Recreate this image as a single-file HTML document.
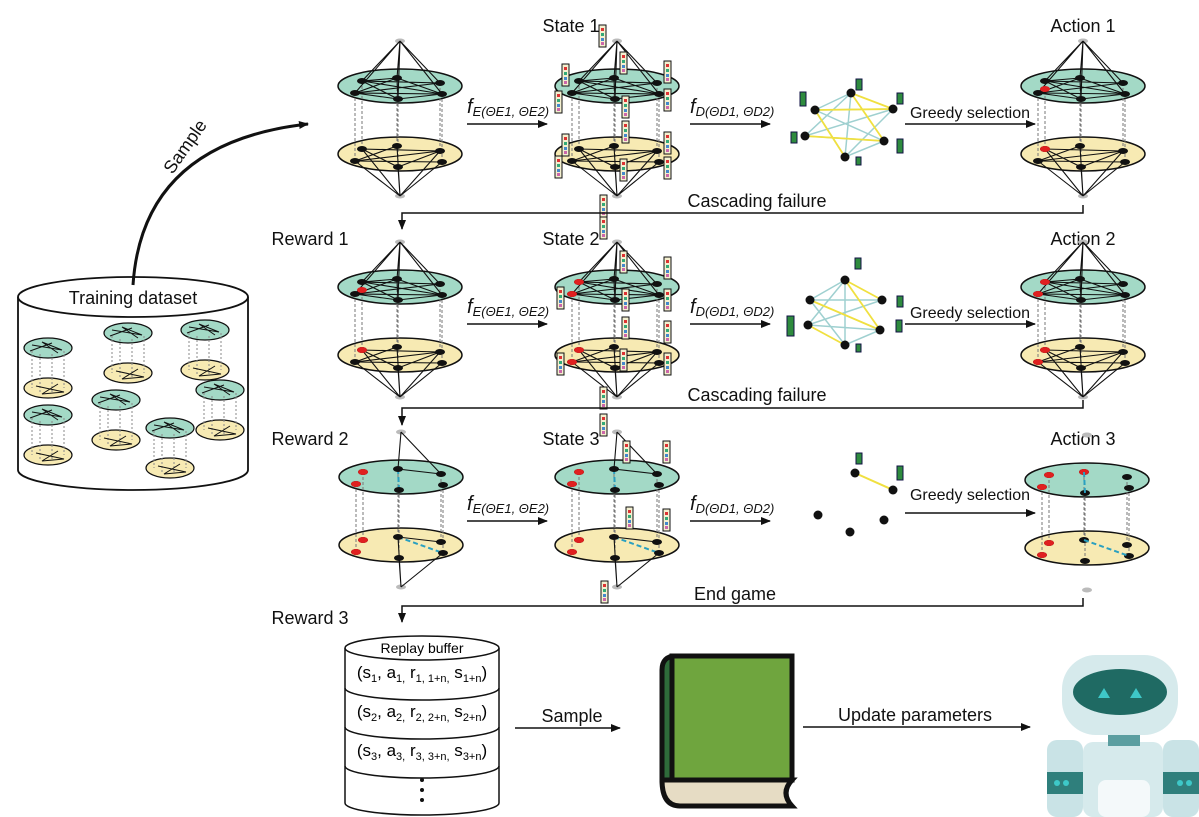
<!DOCTYPE html>
<html><head><meta charset="utf-8"><style>
html,body{margin:0;padding:0;background:#fff;}
svg{display:block;font-family:"Liberation Sans",sans-serif;}
.t{font-size:18px;fill:#111;}
.s{font-size:15px;fill:#111;}
</style></head><body>
<svg width="1199" height="817" viewBox="0 0 1199 817" xmlns="http://www.w3.org/2000/svg">
<defs>
<marker id="ah" markerWidth="10" markerHeight="8" refX="9" refY="4" orient="auto" markerUnits="userSpaceOnUse"><path d="M0,0 L10,4 L0,8 Z" fill="#111"/></marker>
<g id="ell">
  <ellipse cx="0" cy="-33" rx="62" ry="17" fill="#a3d9c6" stroke="#111" stroke-width="1.5"/>
  <ellipse cx="0" cy="35" rx="62" ry="17" fill="#f7eab3" stroke="#111" stroke-width="1.5"/>
  <g stroke="#777" stroke-width="1" stroke-dasharray="3,2">
    <line x1="-45" y1="-26" x2="-45" y2="42"/><line x1="-38" y1="-38" x2="-38" y2="30"/>
    <line x1="-3" y1="-41" x2="-3" y2="27"/><line x1="-2" y1="-20" x2="-2" y2="48"/>
    <line x1="40" y1="-36" x2="40" y2="32"/><line x1="42" y1="-25" x2="42" y2="43"/>
  </g>
  <ellipse cx="0" cy="-78" rx="5" ry="2.5" fill="#bbb"/>
  <ellipse cx="0" cy="77" rx="5" ry="2.5" fill="#bbb"/>
</g>
<g id="full">
  <g stroke="#111" stroke-width="1.1" fill="none">
    <path d="M0,-78 L-38,-38 M0,-78 L-3,-41 M0,-78 L40,-36 M0,-78 L-45,-26 M0,-78 L-2,-20 M0,-78 L42,-25"/>
    <path d="M-38,-38 L40,-36 L-45,-26 L42,-25 L-38,-38 L-2,-20 L-3,-41 L-45,-26 M-3,-41 L42,-25 M-38,-38 L-3,-41 M-45,-26 L-2,-20 L42,-25"/>
    <path d="M-38,30 L40,32 L-45,42 L42,43 M-3,27 L-45,42 M-2,48 L40,32 M-38,30 L-2,48"/>
    <path d="M0,77 L-38,30 M0,77 L-3,27 M0,77 L40,32 M0,77 L-45,42 M0,77 L-2,48 M0,77 L42,43"/>
  </g>
</g>
<g id="nodes">
  <g fill="#111"><ellipse cx="-38" cy="-38" rx="5" ry="3"/><ellipse cx="-3" cy="-41" rx="5" ry="3"/><ellipse cx="40" cy="-36" rx="5" ry="3"/><ellipse cx="-45" cy="-26" rx="5" ry="3"/><ellipse cx="-2" cy="-20" rx="5" ry="3"/><ellipse cx="42" cy="-25" rx="5" ry="3"/>
  <ellipse cx="-38" cy="30" rx="5" ry="3"/><ellipse cx="-3" cy="27" rx="5" ry="3"/><ellipse cx="40" cy="32" rx="5" ry="3"/><ellipse cx="-45" cy="42" rx="5" ry="3"/><ellipse cx="-2" cy="48" rx="5" ry="3"/><ellipse cx="42" cy="43" rx="5" ry="3"/></g>
</g>
<g id="red2">
  <ellipse cx="-38" cy="-38" rx="5" ry="3" fill="#e02020"/><ellipse cx="-45" cy="-26" rx="5" ry="3" fill="#e02020"/>
  <ellipse cx="-38" cy="30" rx="5" ry="3" fill="#e02020"/><ellipse cx="-45" cy="42" rx="5" ry="3" fill="#e02020"/>
</g>
<g id="sparse">
  <g stroke="#111" stroke-width="1.1" fill="none"><path d="M0,-78 L40,-36 M0,-78 L-3,-41 L40,-36 M-3,27 L40,32 M0,77 L-2,48 M0,77 L42,43 M0,77 L-3,27"/></g>
  <path d="M-3,-41 L-2,-20 M-3,27 L42,43" stroke="#2aa0c0" stroke-width="2" stroke-dasharray="5,3"/>
</g>
<g id="bar"><rect x="-3" y="-11" width="7" height="22" fill="#f4f0d0" stroke="#111" stroke-width="1"/><rect x="-1" y="-8" width="3" height="3" fill="#d33"/><rect x="-1" y="-3" width="3" height="3" fill="#3a7"/><rect x="-1" y="2" width="3" height="3" fill="#48c"/><rect x="-1" y="6" width="3" height="3" fill="#c6a"/></g>
<g id="mini">
  <ellipse cx="0" cy="0" rx="24" ry="10" fill="#a3d9c6" stroke="#111" stroke-width="1.2"/>
  <ellipse cx="0" cy="40" rx="24" ry="10" fill="#f7eab3" stroke="#111" stroke-width="1.2"/>
  <g stroke="#888" stroke-dasharray="2,2"><line x1="-16" y1="3" x2="-16" y2="40"/><line x1="-8" y1="6" x2="-8" y2="44"/><line x1="4" y1="6" x2="4" y2="44"/><line x1="16" y1="3" x2="16" y2="40"/></g>
  <path d="M-16,-3 L14,2 L-6,-6 L10,5 M-18,3 L4,-5 M-12,38 L16,44 L-6,46 L10,36" stroke="#111" fill="none"/>
</g>
</defs>

<!-- Training dataset cylinder -->
<path d="M18,297 L18,470 A115,20 0 0 0 248,470 L248,297" fill="#fff" stroke="#111" stroke-width="1.8"/>
<ellipse cx="133" cy="297" rx="115" ry="20" fill="#fff" stroke="#111" stroke-width="1.8"/>
<text x="133" y="304" class="t" text-anchor="middle">Training dataset</text>
<use href="#mini" x="48" y="348"/><use href="#mini" x="128" y="333"/><use href="#mini" x="205" y="330"/>
<use href="#mini" x="48" y="415"/><use href="#mini" x="116" y="400"/><use href="#mini" x="170" y="428"/><use href="#mini" x="220" y="390"/>

<!-- Sample arc -->
<path d="M133,285 C140,180 210,135 308,124" fill="none" stroke="#111" stroke-width="3" marker-end="url(#ah)"/>
<text x="0" y="0" class="t" transform="translate(190,150) rotate(-55)" text-anchor="middle">Sample</text>

<!-- Labels -->
<text x="571" y="32" class="t" text-anchor="middle">State 1</text>
<text x="1083" y="32" class="t" text-anchor="middle">Action 1</text>
<text x="310" y="245" class="t" text-anchor="middle">Reward 1</text>
<text x="571" y="245" class="t" text-anchor="middle">State 2</text>
<text x="1083" y="245" class="t" text-anchor="middle">Action 2</text>
<text x="310" y="445" class="t" text-anchor="middle">Reward 2</text>
<text x="571" y="445" class="t" text-anchor="middle">State 3</text>
<text x="1083" y="445" class="t" text-anchor="middle">Action 3</text>
<text x="310" y="624" class="t" text-anchor="middle">Reward 3</text>

<!-- Row 1 -->
<g transform="translate(400,119)"><use href="#ell"/><use href="#full"/><use href="#nodes"/></g>
<g transform="translate(617,119)"><use href="#ell"/><use href="#full"/><use href="#nodes"/></g>
<g transform="translate(1083,119)"><use href="#ell"/><use href="#full"/><use href="#nodes"/><ellipse cx="-38" cy="-30" rx="5" ry="3" fill="#e02020"/><ellipse cx="-38" cy="30" rx="5" ry="3" fill="#e02020"/></g>
<!-- Row 2 -->
<g transform="translate(400,320)"><use href="#ell"/><use href="#full"/><use href="#nodes"/><ellipse cx="-38" cy="-30" rx="5" ry="3" fill="#e02020"/><ellipse cx="-38" cy="30" rx="5" ry="3" fill="#e02020"/></g>
<g transform="translate(617,320)"><use href="#ell"/><use href="#full"/><use href="#nodes"/><use href="#red2"/></g>
<g transform="translate(1083,320)"><use href="#ell"/><use href="#full"/><use href="#nodes"/><use href="#red2"/></g>
<!-- Row 3 -->
<g transform="translate(401,510)"><use href="#ell"/><use href="#sparse"/><use href="#nodes"/><use href="#red2"/></g>
<g transform="translate(617,510)"><use href="#ell"/><use href="#sparse"/><use href="#nodes"/><use href="#red2"/></g>
<g transform="translate(1087,513)"><use href="#ell"/><use href="#nodes"/><use href="#red2"/><ellipse cx="-3" cy="-41" rx="5" ry="3" fill="#e02020"/><path d="M-3,-41 L-2,-20 M-3,27 L42,43" stroke="#2aa0c0" stroke-width="2" stroke-dasharray="5,3"/></g>

<!-- feature bars -->
<g>
<use href="#bar" x="602" y="36"/><use href="#bar" x="623" y="63"/><use href="#bar" x="565" y="75"/><use href="#bar" x="667" y="72"/><use href="#bar" x="558" y="102"/><use href="#bar" x="625" y="107"/><use href="#bar" x="667" y="100"/>
<use href="#bar" x="565" y="145"/><use href="#bar" x="625" y="132"/><use href="#bar" x="667" y="143"/><use href="#bar" x="558" y="167"/><use href="#bar" x="623" y="170"/><use href="#bar" x="667" y="168"/><use href="#bar" x="603" y="206"/>
<use href="#bar" x="603" y="228"/><use href="#bar" x="623" y="262"/><use href="#bar" x="667" y="268"/><use href="#bar" x="560" y="298"/><use href="#bar" x="625" y="300"/><use href="#bar" x="667" y="300"/>
<use href="#bar" x="625" y="328"/><use href="#bar" x="667" y="332"/><use href="#bar" x="560" y="364"/><use href="#bar" x="623" y="360"/><use href="#bar" x="667" y="364"/><use href="#bar" x="603" y="398"/>
<use href="#bar" x="603" y="425"/><use href="#bar" x="626" y="452"/><use href="#bar" x="666" y="452"/><use href="#bar" x="629" y="518"/><use href="#bar" x="666" y="520"/><use href="#bar" x="604" y="592"/>
</g>

<!-- f arrows -->
<g stroke="#111" stroke-width="1.5" marker-end="url(#ah)">
<line x1="467" y1="124" x2="547" y2="124"/><line x1="690" y1="124" x2="770" y2="124"/><line x1="905" y1="124" x2="1035" y2="124"/>
<line x1="467" y1="324" x2="547" y2="324"/><line x1="690" y1="324" x2="770" y2="324"/><line x1="905" y1="324" x2="1035" y2="324"/>
<line x1="467" y1="521" x2="547" y2="521"/><line x1="690" y1="521" x2="770" y2="521"/><line x1="905" y1="513" x2="1035" y2="513"/>
</g>
<g class="s">
<text x="467" y="113" font-size="20" font-style="italic">f<tspan font-size="13" dy="3">E(ΘE1, ΘE2)</tspan></text>
<text x="690" y="113" font-size="20" font-style="italic">f<tspan font-size="13" dy="3">D(ΘD1, ΘD2)</tspan></text>
<text x="467" y="313" font-size="20" font-style="italic">f<tspan font-size="13" dy="3">E(ΘE1, ΘE2)</tspan></text>
<text x="690" y="313" font-size="20" font-style="italic">f<tspan font-size="13" dy="3">D(ΘD1, ΘD2)</tspan></text>
<text x="467" y="510" font-size="20" font-style="italic">f<tspan font-size="13" dy="3">E(ΘE1, ΘE2)</tspan></text>
<text x="690" y="510" font-size="20" font-style="italic">f<tspan font-size="13" dy="3">D(ΘD1, ΘD2)</tspan></text>
<text x="970" y="118" text-anchor="middle" font-size="16">Greedy selection</text>
<text x="970" y="318" text-anchor="middle" font-size="16">Greedy selection</text>
<text x="970" y="500" text-anchor="middle" font-size="16">Greedy selection</text>
</g>

<!-- decoder graphs -->
<g>
<g stroke="#9fd0d0" stroke-width="1.5" fill="none"><path d="M851,93 L815,110 L893,109 L805,136 L884,141 L845,157 L815,110 M851,93 L805,136 M851,93 L845,157 M815,110 L884,141 M893,109 L845,157"/></g>
<g stroke="#f0e040" stroke-width="1.8" fill="none"><path d="M851,93 L893,109 M851,93 L884,141 M815,110 L845,157 M805,136 L884,141 M815,110 L893,109"/></g>
<g fill="#111"><circle cx="851" cy="93" r="4.5"/><circle cx="815" cy="110" r="4.5"/><circle cx="893" cy="109" r="4.5"/><circle cx="805" cy="136" r="4.5"/><circle cx="884" cy="141" r="4.5"/><circle cx="845" cy="157" r="4.5"/></g>
<g fill="#2e8b3e" stroke="#114"><rect x="800" y="92" width="6" height="14"/><rect x="856" y="79" width="6" height="11"/><rect x="897" y="93" width="6" height="11"/><rect x="791" y="132" width="6" height="11"/><rect x="897" y="139" width="6" height="14"/><rect x="856" y="157" width="5" height="8"/></g>
</g>
<g>
<g stroke="#9fd0d0" stroke-width="1.5" fill="none"><path d="M845,280 L810,300 L882,300 L808,325 L880,330 L845,345 L810,300 M845,280 L808,325 M845,280 L845,345 M882,300 L808,325"/></g>
<g stroke="#f0e040" stroke-width="1.8" fill="none"><path d="M845,280 L882,300 M810,300 L880,330 M808,325 L845,345 M845,280 L880,330"/></g>
<g fill="#111"><circle cx="845" cy="280" r="4.5"/><circle cx="810" cy="300" r="4.5"/><circle cx="882" cy="300" r="4.5"/><circle cx="808" cy="325" r="4.5"/><circle cx="880" cy="330" r="4.5"/><circle cx="845" cy="345" r="4.5"/></g>
<g fill="#2e8b3e" stroke="#114"><rect x="855" y="258" width="6" height="11"/><rect x="897" y="296" width="6" height="11"/><rect x="787" y="316" width="7" height="20"/><rect x="896" y="320" width="6" height="12"/><rect x="856" y="344" width="5" height="8"/></g>
</g>
<g>
<path d="M855,473 L893,490" stroke="#f0e040" stroke-width="2"/>
<g fill="#111"><circle cx="855" cy="473" r="4.5"/><circle cx="893" cy="490" r="4.5"/><circle cx="818" cy="515" r="4.5"/><circle cx="884" cy="520" r="4.5"/><circle cx="850" cy="532" r="4.5"/></g>
<g fill="#2e8b3e" stroke="#114"><rect x="856" y="453" width="6" height="11"/><rect x="897" y="466" width="6" height="14"/></g>
</g>

<!-- cascading lines -->
<g stroke="#111" stroke-width="1.5" fill="none">
<path d="M1083,205 L1083,213 L402,213 L402,229" marker-end="url(#ah)"/>
<path d="M1083,400 L1083,408 L402,408 L402,425" marker-end="url(#ah)"/>
<path d="M1083,598 L1083,606 L402,606 L402,622" marker-end="url(#ah)"/>
</g>
<text x="757" y="207" class="t" text-anchor="middle">Cascading failure</text>
<text x="757" y="401" class="t" text-anchor="middle">Cascading failure</text>
<text x="735" y="600" class="t" text-anchor="middle">End game</text>

<!-- Replay buffer -->
<path d="M345,648 L345,803 A77,12 0 0 0 499,803 L499,648" fill="#fff" stroke="#111" stroke-width="1.5"/>
<ellipse cx="422" cy="648" rx="77" ry="12" fill="#fff" stroke="#111" stroke-width="1.5"/>
<path d="M345,688 A77,12 0 0 0 499,688 M345,727 A77,12 0 0 0 499,727 M345,766 A77,12 0 0 0 499,766" fill="none" stroke="#111" stroke-width="1.5"/>
<text x="422" y="653" font-size="14" text-anchor="middle">Replay buffer</text>
<text x="422" y="678" font-size="17" text-anchor="middle">(s<tspan font-size="11" dy="4">1</tspan><tspan dy="-4">, a</tspan><tspan font-size="11" dy="4">1,</tspan><tspan dy="-4"> r</tspan><tspan font-size="11" dy="4">1, 1+n,</tspan><tspan dy="-4"> s</tspan><tspan font-size="11" dy="4">1+n</tspan><tspan dy="-4">)</tspan></text>
<text x="422" y="717" font-size="17" text-anchor="middle">(s<tspan font-size="11" dy="4">2</tspan><tspan dy="-4">, a</tspan><tspan font-size="11" dy="4">2,</tspan><tspan dy="-4"> r</tspan><tspan font-size="11" dy="4">2, 2+n,</tspan><tspan dy="-4"> s</tspan><tspan font-size="11" dy="4">2+n</tspan><tspan dy="-4">)</tspan></text>
<text x="422" y="756" font-size="17" text-anchor="middle">(s<tspan font-size="11" dy="4">3</tspan><tspan dy="-4">, a</tspan><tspan font-size="11" dy="4">3,</tspan><tspan dy="-4"> r</tspan><tspan font-size="11" dy="4">3, 3+n,</tspan><tspan dy="-4"> s</tspan><tspan font-size="11" dy="4">3+n</tspan><tspan dy="-4">)</tspan></text>
<g fill="#111"><circle cx="422" cy="780" r="2"/><circle cx="422" cy="790" r="2"/><circle cx="422" cy="800" r="2"/></g>

<line x1="515" y1="728" x2="620" y2="728" stroke="#111" stroke-width="1.5" marker-end="url(#ah)"/>
<text x="572" y="722" class="t" text-anchor="middle">Sample</text>

<!-- Book -->
<path d="M662,780 L662,670 Q662,656 676,656 L792,656 L792,780 Z" fill="#2e6b3a" stroke="#111" stroke-width="5"/>
<rect x="672" y="656" width="120" height="124" fill="#6fa53e" stroke="#111" stroke-width="5"/>
<path d="M662,780 Q662,806 680,806 L792,806 Q780,793 792,780 Z" fill="#e6dcc4" stroke="#111" stroke-width="5"/>

<line x1="803" y1="727" x2="1030" y2="727" stroke="#111" stroke-width="1.5" marker-end="url(#ah)"/>
<text x="915" y="721" class="t" text-anchor="middle">Update parameters</text>

<!-- Robot -->
<rect x="1047" y="740" width="36" height="77" rx="10" fill="#c9e3e6"/>
<rect x="1163" y="740" width="36" height="77" rx="10" fill="#c9e3e6"/>
<rect x="1047" y="772" width="36" height="22" fill="#2f7f7c"/><rect x="1163" y="772" width="36" height="22" fill="#2f7f7c"/>
<circle cx="1057" cy="783" r="3" fill="#3ec8c8"/><circle cx="1066" cy="783" r="3" fill="#3ec8c8"/><circle cx="1180" cy="783" r="3" fill="#3ec8c8"/><circle cx="1189" cy="783" r="3" fill="#3ec8c8"/>
<rect x="1083" y="742" width="80" height="75" rx="10" fill="#d6eaec"/>
<rect x="1098" y="780" width="52" height="37" rx="8" fill="#f4f9fa"/>
<rect x="1108" y="728" width="32" height="18" fill="#5b9ea0"/>
<rect x="1062" y="655" width="116" height="80" rx="34" fill="#d6eaec"/>
<ellipse cx="1120" cy="692" rx="47" ry="23" fill="#1f6a63"/>
<path d="M1098,698 L1104,688 L1110,698 Z M1130,698 L1136,688 L1142,698 Z" fill="#3ec8c8"/>
</svg>
</body></html>
